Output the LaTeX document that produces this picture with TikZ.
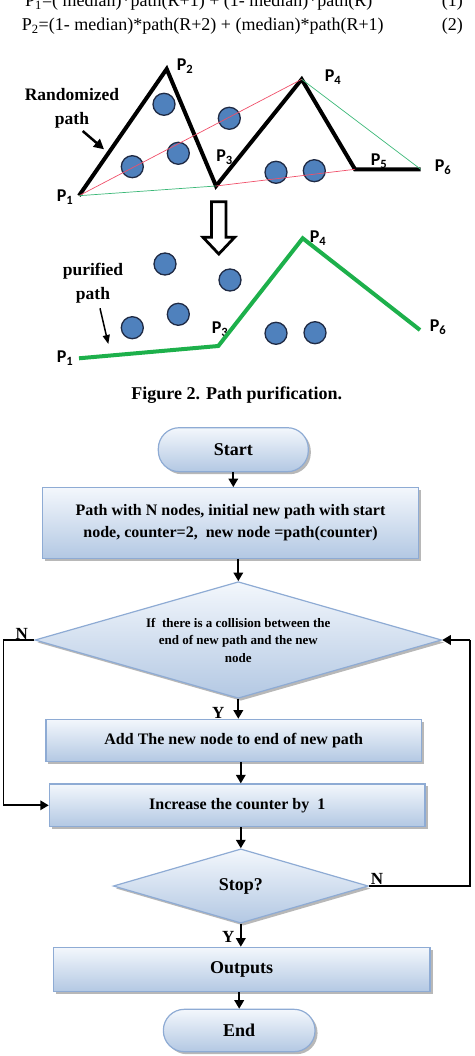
\documentclass[tikz,border=0pt]{standalone}
\usepackage{fontspec}
\setmainfont{Liberation Serif}
\newfontfamily\calib{Carlito}
\usetikzlibrary{shapes.geometric,arrows.meta,shadows}
\definecolor{obfill}{HTML}{4F81BD}
\definecolor{obline}{HTML}{1F2A44}
\definecolor{redln}{HTML}{F0506A}
\definecolor{greenthin}{HTML}{3CB878}
\definecolor{greenthick}{HTML}{1DB04B}
\definecolor{fcborder}{HTML}{8EABD4}
\definecolor{fctop}{HTML}{F3F7FC}
\definecolor{fcbot}{HTML}{B3C8E3}
\begin{document}
\begin{tikzpicture}[x=1pt,y=-1pt,
  obst/.style={circle,draw=obline,line width=1.3pt,fill=obfill,minimum size=22pt,inner sep=0pt},
  plabel/.style={font=\calib\fontsize{18}{20}\selectfont\bfseries,inner sep=0pt},
  desc/.style={font=\fontsize{17.5}{24}\selectfont\bfseries,align=center,inner sep=0pt},
  fcbase/.style={draw=fcborder,line width=1.2pt,top color=fctop,bottom color=fcbot,
    drop shadow={shadow xshift=2.5pt,shadow yshift=-2.5pt,fill=gray!70,opacity=0.8},
    inner sep=0pt,align=center},
  fcbox/.style={fcbase,rectangle,font=\fontsize{16}{22}\selectfont\bfseries},
  fcterm/.style={fcbase,rectangle,rounded corners=21pt,font=\fontsize{18}{22}\selectfont\bfseries},
  fcdia/.style={fcbase,diamond},
  flow/.style={line width=1.8pt,-{Triangle[length=8.5pt,width=9.5pt]}},
  loopln/.style={line width=1.6pt},
  yn/.style={font=\fontsize{17}{20}\selectfont\bfseries,inner sep=0pt},
  formula/.style={inner sep=0pt,font=\fontsize{18}{20}\selectfont}
]
\useasboundingbox (0,0) rectangle (474,1056);

% formulas
\node[formula,anchor=base west] (f1) at (25,7)
  {P\textsubscript{1}=( median)*path(R+1) + (1- median)*path(R)};
\node[formula,anchor=base east] (n1) at (463,7) {(1)};
\node[formula,anchor=base west] (f2) at (21.7,31)
  {P\textsubscript{2}=(1- median)*path(R+2) + (median)*path(R+1)};
\node[formula,anchor=base east] (n2) at (463,31) {(2)};

% ---------- upper figure ----------
\coordinate (a1) at (79,195.7);
\coordinate (a2) at (166.7,69);
\coordinate (a3) at (216,186);
\coordinate (a4) at (301.7,79.3);
\coordinate (a5) at (355,169.3);
\coordinate (a6) at (420.7,169.3);

\node[plabel] (la2) at (185,66) {P\textsubscript{2}};
\node[plabel] (la4) at (333,77) {P\textsubscript{4}};
\node[plabel] (la3) at (224.5,157) {P\textsubscript{3}};
\node[plabel] (la5) at (379,161) {P\textsubscript{5}};
\node[plabel] (la6) at (443,167) {P\textsubscript{6}};
\node[plabel] (la1) at (65,197) {P\textsubscript{1}};

\node[obst] (o1) at (164,104.3) {};
\node[obst] (o2) at (229.3,118.3) {};
\node[obst] (o3) at (178.3,153.3) {};
\node[obst] (o4) at (132.3,166.7) {};
\node[obst] (o5) at (276,172.3) {};
\node[obst] (o6) at (314.3,170.7) {};

\draw[line width=4pt,line join=miter] (a1) -- (a2) -- (a3) -- (a4) -- (a5) -- (a6);
\draw[redln,line width=0.7pt] (a1) -- (a4);
\draw[redln,line width=0.7pt] (a3) -- (a5);
\draw[greenthin,line width=0.7pt] (a1) -- (a3);
\draw[greenthin,line width=0.7pt] (a4) -- (a6);

\node[desc] (rp) at (72,108) {Randomized\\path};
\coordinate (rpa) at (82.7,131);
\coordinate (rpb) at (104,149.3);
\draw[line width=2.5pt,-{Triangle[length=10pt,width=10pt]}] (rpa) -- (rpb);

% hollow arrow
\draw[line width=2.8pt,fill=white,line join=miter]
  (211.5,201.7) -- (226,201.7) -- (226,237.3) -- (234.6,237.3) -- (218.8,254)
  -- (203,237.3) -- (211.5,237.3) -- cycle;

% ---------- lower figure ----------
\coordinate (b1) at (79,358.3);
\coordinate (b3) at (218.3,346);
\coordinate (b4) at (302.7,238.3);
\coordinate (b6) at (420,330);

\node[plabel] (lb4) at (318,238) {P\textsubscript{4}};
\node[plabel] (lb3) at (220,329) {P\textsubscript{3}};
\node[plabel] (lb6) at (438,327) {P\textsubscript{6}};
\node[plabel] (lb1) at (65,358) {P\textsubscript{1}};

\node[obst] (q1) at (165,264) {};
\node[obst] (q2) at (230,280) {};
\node[obst] (q3) at (178.3,314.3) {};
\node[obst] (q4) at (132.3,327.7) {};
\node[obst] (q5) at (276,333.3) {};
\node[obst] (q6) at (315,332.7) {};

\draw[greenthick,line width=4pt,line join=miter] (b1) -- (b3) -- (b4) -- (b6);

\node[desc] (pp) at (93,283) {purified\\path};
\coordinate (ppa) at (100,308.3);
\coordinate (ppb) at (108.3,344);
\draw[line width=1.5pt,-{Triangle[length=9pt,width=7pt]}] (ppa) -- (ppb);

\node[font=\fontsize{18}{22}\selectfont\bfseries,inner sep=0pt] (cap) at (236.7,395) {Figure 2. Path purification.};

% ---------- flowchart ----------
\node[fcterm,minimum width=150pt,minimum height=44pt] (start) at (233.3,449.7) {Start};
\node[fcbox,minimum width=375.6pt,minimum height=70.6pt] (box1) at (230.5,523)
  {Path with N nodes, initial new path with start\\node, counter=2, \ new node =path(counter)};
\node[fcdia,minimum width=406.7pt,minimum height=116.6pt,aspect=3.49,
  font=\fontsize{13}{17.5}\selectfont\bfseries] (dia1) at (238.3,640)
  {If \ there is a collision between the\\end of new path and the new\\node};
\node[fcbox,minimum width=375.7pt,minimum height=42.4pt] (box2) at (233.8,740.5)
  {Add The new node to end of new path};
\node[fcbox,minimum width=375.7pt,minimum height=42.7pt] (box3) at (237.2,805.3)
  {Increase the counter by \ 1};
\node[fcdia,minimum width=255pt,minimum height=74.3pt,aspect=3.43,
  font=\fontsize{18}{22}\selectfont\bfseries] (dia2) at (240.8,886) {Stop?};
\node[fcbox,minimum width=376.7pt,minimum height=44.4pt,font=\fontsize{18}{22}\selectfont\bfseries] (box4) at (241.7,969.5) {Outputs};
\node[fcterm,minimum width=151.7pt,minimum height=42.4pt] (end) at (239.2,1030.5) {End};

\draw[flow] (start.south) -- (start.south |- box1.north);
\draw[flow] (dia1.north |- box1.south) -- (dia1.north);
\draw[flow] (dia1.south) -- (dia1.south |- box2.north);
\draw[flow] (box2.south -| dia2.north) -- (box3.north -| dia2.north);
\draw[flow] (box3.south -| dia2.north) -- (dia2.north);
\draw[flow] (dia2.south) -- (dia2.south |- box4.north);
\draw[flow] (end.north |- box4.south) -- (end.north);

\coordinate (lt) at (3.3,640);
\coordinate (lb) at (3.3,805.3);
\draw[loopln] (dia1.west) -- (lt) -- (lb);
\draw[flow] (lb) -- (box3.west);
\coordinate (rb) at (470,886);
\coordinate (rt) at (470,640);
\draw[loopln] (dia2.east) -- (rb) -- (rt);
\draw[flow] (rt) -- (dia1.east);

\node[yn,anchor=base] (nl) at (21.7,639) {N};
\node[yn,anchor=base] (nr) at (377,884) {N};
\node[yn] (y1) at (218.3,713) {Y};
\node[yn] (y2) at (228.3,936.7) {Y};
\end{tikzpicture}
\end{document}
